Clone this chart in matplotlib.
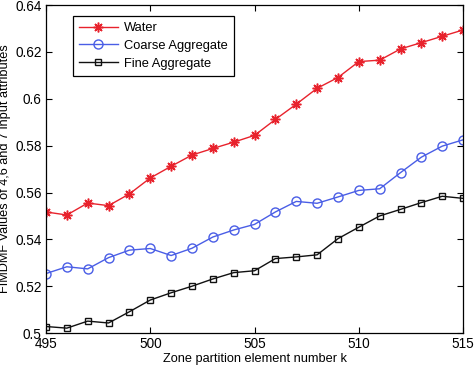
import matplotlib
matplotlib.use("Agg")
import matplotlib.pyplot as plt

plt.rcParams['font.family'] = ['Liberation Sans', 'DejaVu Sans']

k = list(range(495, 516))
water = [0.5517, 0.5504, 0.5555, 0.5544, 0.5594, 0.5662, 0.5712, 0.5760, 0.5788, 0.5815,
         0.5844, 0.5912, 0.5977, 0.6045, 0.6091, 0.6159, 0.6165, 0.6213, 0.6240, 0.6267, 0.6294]
coarse = [0.5254, 0.5283, 0.5274, 0.5322, 0.5354, 0.5361, 0.5331, 0.5362, 0.5410, 0.5440,
          0.5464, 0.5517, 0.5562, 0.5554, 0.5581, 0.5609, 0.5616, 0.5685, 0.5751, 0.5798, 0.5825]
fine = [0.5028, 0.5021, 0.5051, 0.5043, 0.5091, 0.5141, 0.5172, 0.5200, 0.5231, 0.5258,
        0.5266, 0.5318, 0.5325, 0.5334, 0.5403, 0.5452, 0.5500, 0.5528, 0.5557, 0.5584, 0.5575]

xticks = [495, 500, 505, 510, 515]
yticks = [0.5, 0.52, 0.54, 0.56, 0.58, 0.6, 0.62, 0.64]
ytick_labels = ['0.5', '0.52', '0.54', '0.56', '0.58', '0.6', '0.62', '0.64']

fig = plt.figure(figsize=(4.74, 3.66), dpi=100)
ax = fig.add_axes([0.097, 0.090, 0.880, 0.896])

ax.plot(k, water, '-', color='#e8222c', marker=(8, 2, 0), markersize=7, mew=1.1, lw=1, label='Water')
ax.plot(k, coarse, '-', color='#4a5ee6', marker='o', markersize=6.5, mfc='none', lw=1, label='Coarse Aggregate')
ax.plot(k, fine, '-', color='#111111', marker='s', markersize=4.8, mfc='none', lw=1, label='Fine Aggregate')

ax.set_xlim(495, 515)
ax.set_ylim(0.5, 0.64)
ax.set_xticks(xticks)
ax.set_yticks(yticks)
ax.set_yticklabels(ytick_labels)
ax.tick_params(direction='in', top=True, right=True, labelsize=9.8, length=4, pad=3)
for s in ax.spines.values():
    s.set_linewidth(0.9)

ax.set_xlabel('Zone partition element number k', fontsize=9.2, labelpad=1)
ax.set_ylabel('FIMDMF Values of 4,6 and 7 input attributes', fontsize=9.2)
ax.yaxis.set_label_coords(-0.083, 0.5)

leg = ax.legend(loc='upper left', bbox_to_anchor=(0.065, 0.966), borderaxespad=0,
                fontsize=9.3, fancybox=False, edgecolor='black', framealpha=1,
                handlelength=3.0, borderpad=0.45, labelspacing=0.45, handletextpad=0.5)
leg.get_frame().set_linewidth(0.9)

fig.savefig('out.png', dpi=100)
